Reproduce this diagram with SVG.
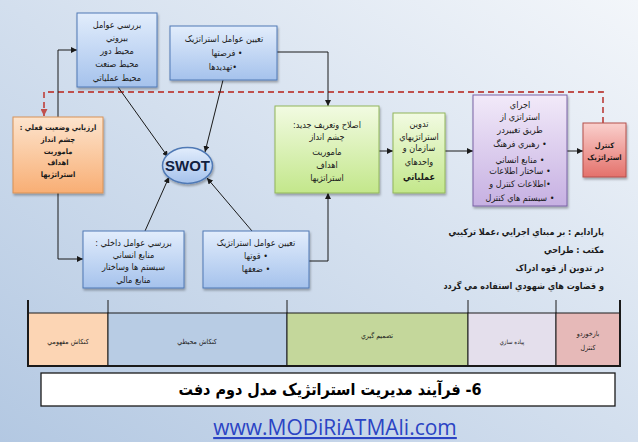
<svg xmlns="http://www.w3.org/2000/svg" width="638" height="442" viewBox="0 0 638 442">
<defs>
<linearGradient id="bg" x1="1" y1="0" x2="0" y2="1">
<stop offset="0" stop-color="#f3f6fa"/>
<stop offset="1" stop-color="#b3c8e2"/>
</linearGradient>
<linearGradient id="gBlue" x1="0" y1="0" x2="0" y2="1"><stop offset="0" stop-color="#e2edfc"/><stop offset="1" stop-color="#a5c2ec"/></linearGradient>
<linearGradient id="gOrange" x1="0" y1="0" x2="0" y2="1"><stop offset="0" stop-color="#fde4cd"/><stop offset="1" stop-color="#f8ae74"/></linearGradient>
<linearGradient id="gGreen" x1="0" y1="0" x2="0" y2="1"><stop offset="0" stop-color="#f2fbe2"/><stop offset="1" stop-color="#c3e78b"/></linearGradient>
<linearGradient id="gPurple" x1="0" y1="0" x2="0" y2="1"><stop offset="0" stop-color="#f2eaf9"/><stop offset="1" stop-color="#c6b0e2"/></linearGradient>
<linearGradient id="gRed" x1="0" y1="0" x2="0" y2="1"><stop offset="0" stop-color="#fad0cd"/><stop offset="1" stop-color="#e4716b"/></linearGradient>
<filter id="sh" x="-10%" y="-10%" width="125%" height="130%">
<feDropShadow dx="1" dy="2" stdDeviation="1.3" flood-color="#000" flood-opacity="0.3"/>
</filter>
<marker id="ah" viewBox="0 0 10 10" refX="10" refY="5" markerWidth="6" markerHeight="6" orient="auto" markerUnits="userSpaceOnUse">
<path d="M0,0 L10,5 L0,10 z" fill="#1a1a1a"/>
</marker>
<marker id="ahr" viewBox="0 0 10 10" refX="10" refY="5" markerWidth="7" markerHeight="7" orient="auto" markerUnits="userSpaceOnUse">
<path d="M0,0 L10,5 L0,10 z" fill="#c0504d"/>
</marker>
</defs>
<style>
.t{font-family:"DejaVu Sans Condensed","DejaVu Sans",sans-serif;font-stretch:condensed;font-size:9px;fill:#1a1a1a;text-anchor:middle;direction:rtl}
.b{font-weight:bold}
.o{font-size:7.5px}
.n{text-anchor:start;font-size:9px}
.box{stroke-width:1;filter:url(#sh)}
.blue{fill:url(#gBlue);stroke:#4f79b5}
.orange{fill:url(#gOrange);stroke:#d89257}
.green{fill:url(#gGreen);stroke:#92b65b}
.purple{fill:url(#gPurple);stroke:#7a62a6}
.red{fill:url(#gRed);stroke:#b4504b}
.ln{fill:none;stroke:#1a1a1a;stroke-width:1}
.dash{fill:none;stroke:#c0504d;stroke-width:1.8;stroke-dasharray:6 4}
.cell{stroke:#1a1a1a;stroke-width:1}
.ct{font-family:"DejaVu Sans Condensed","DejaVu Sans",sans-serif;font-stretch:condensed;font-size:7px;fill:#1a1a1a;text-anchor:middle;direction:rtl}
</style>
<rect x="0" y="0" width="638" height="442" fill="url(#bg)"/>

<g id="connectors">
<path class="dash" d="M603,123 V92 H44 V116" marker-end="url(#ahr)"/>
<path class="ln" d="M58,117 V50 H77" marker-end="url(#ah)"/>
<path class="ln" d="M58,193 V259 H83" marker-end="url(#ah)"/>
<path class="ln" d="M277,52 H328 V106" marker-end="url(#ah)"/>
<path class="ln" d="M309,261 H328 V193" marker-end="url(#ah)"/>
<line class="ln" x1="118" y1="87" x2="168" y2="157" marker-end="url(#ah)"/>
<line class="ln" x1="223" y1="80" x2="205" y2="152" marker-end="url(#ah)"/>
<line class="ln" x1="145" y1="231" x2="169" y2="177" marker-end="url(#ah)"/>
<line class="ln" x1="252" y1="231" x2="207" y2="178" marker-end="url(#ah)"/>
<line class="ln" x1="379" y1="151" x2="393" y2="151" marker-end="url(#ah)"/>
<line class="ln" x1="445" y1="151" x2="473" y2="151" marker-end="url(#ah)"/>
<line class="ln" x1="567" y1="151" x2="583" y2="151" marker-end="url(#ah)"/>
</g>

<g id="external">
<rect class="box blue" x="77" y="13" width="80" height="74"/>
<text class="t" x="117" y="28">بررسي عوامل</text>
<text class="t" x="117" y="41">بيروني</text>
<text class="t" x="117" y="54">محيط دور</text>
<text class="t" x="117" y="67">محيط صنعت</text>
<text class="t" x="117" y="81">محيط عملياتي</text>
</g>

<g id="opportunities">
<rect class="box blue" x="170" y="26" width="107" height="54"/>
<text class="t" x="224" y="42">تعيين عوامل استراتژيک</text>
<text class="t" x="227" y="56">• فرصتها</text>
<text class="t" x="223" y="70">•تهديدها</text>
</g>

<g id="current">
<rect class="box orange" x="13" y="117" width="90" height="76"/>
<text class="t b o" x="58" y="130">ارزيابي وضعيت فعلي :</text>
<text class="t b o" x="58" y="142">چشم انداز</text>
<text class="t b o" x="58" y="154">ماموريت</text>
<text class="t b o" x="58" y="165">اهداف</text>
<text class="t b o" x="58" y="177">استراتژيها</text>
</g>

<g id="swot">
<ellipse cx="187.5" cy="165.5" rx="25" ry="18" fill="url(#gBlue)" stroke="#4f79b5" stroke-width="1.5" filter="url(#sh)"/>
<text x="187.5" y="171" font-family="Liberation Sans, Arial, sans-serif" font-size="15" font-weight="bold" fill="#10203f" text-anchor="middle">SWOT</text>
</g>

<g id="internal">
<rect class="box blue" x="83" y="231" width="101" height="57"/>
<text class="t" x="133.5" y="246">بررسي عوامل  داخلي :</text>
<text class="t" x="133.5" y="258">منابع انساني</text>
<text class="t" x="133.5" y="270">سيستم ها وساختار</text>
<text class="t" x="133.5" y="283">منابع مالي</text>
</g>

<g id="strengths">
<rect class="box blue" x="203" y="231" width="106" height="57"/>
<text class="t" x="256" y="246">تعيين عوامل استراتژيک</text>
<text class="t" x="256" y="259">• قوتها</text>
<text class="t" x="256" y="272">• ضعفها</text>
</g>

<g id="reform">
<rect class="box green" x="275" y="106" width="104" height="87"/>
<text class="t" x="327" y="128">اصلاح وتعريف جديد:</text>
<text class="t" x="327" y="140">چشم انداز</text>
<text class="t" x="327" y="155">ماموريت</text>
<text class="t" x="327" y="168">اهداف</text>
<text class="t" x="327" y="181">استراتژيها</text>
</g>

<g id="formulate">
<rect class="box green" x="393" y="113" width="52" height="80"/>
<text class="t" x="419" y="127">تدوين</text>
<text class="t" x="419" y="140">استراتژيهاي</text>
<text class="t" x="419" y="151">سازمان و</text>
<text class="t" x="419" y="165">واحدهاي</text>
<text class="t b" x="419" y="180">عملياتي</text>
</g>

<g id="implement">
<rect class="box purple" x="473" y="95" width="94" height="111"/>
<text class="t" x="520" y="108">اجراي</text>
<text class="t" x="520" y="120">استراتژي از</text>
<text class="t" x="520" y="133">طريق تغييردر</text>
<text class="t" x="520" y="147">• رهبري فرهنگ</text>
<text class="t" x="520" y="163">• منابع انساني</text>
<text class="t" x="520" y="174">• ساختار اطلاعات</text>
<text class="t" x="520" y="187">•اطلاعات کنترل و</text>
<text class="t" x="520" y="201">• سيستم هاي کنترل</text>
</g>

<g id="control">
<rect class="box red" x="583" y="123" width="43" height="54"/>
<text class="t b o" x="604.5" y="148">کنترل</text>
<text class="t b o" x="604.5" y="160">استراتژيک</text>
</g>

<g id="notes">
<text class="t b n" x="604" y="235">پارادايم : بر مبناي اجرايي ،عملا ترکيبي</text>
<text class="t b n" x="604" y="253">مکتب : طراحي</text>
<text class="t b n" x="604" y="271">در تدوين از قوه ادراک</text>
<text class="t b n" x="604" y="289">و قضاوت هاي شهودي استفاده مي گردد</text>
</g>

<g id="table">
<rect class="cell" x="28" y="313" width="80" height="53" fill="#fcd5b4"/>
<rect class="cell" x="108" y="313" width="179" height="53" fill="#b8cce4"/>
<rect class="cell" x="287" y="313" width="181" height="53" fill="#c4d79b"/>
<rect class="cell" x="468" y="313" width="88" height="53" fill="#e4dfec"/>
<rect class="cell" x="556" y="313" width="64" height="53" fill="#e6b9b8"/>
<path d="M108,300 V313 M287,300 V313 M468,300 V313 M556,300 V313" stroke="#1a1a1a" stroke-width="1"/>
<path d="M28,300 V366 H620 V300" fill="none" stroke="#1a1a1a" stroke-width="2"/>
<text class="ct" x="68" y="344">کنکاش مفهومي</text>
<text class="ct" x="197" y="344">کنکاش محيطي</text>
<text class="ct" x="377" y="338">تصميم گيري</text>
<text class="ct" x="512" y="344" style="font-size:6px">پياده سازي</text>
<text class="ct" x="588" y="336">بازخوردو</text>
<text class="ct" x="588" y="350">کنترل</text>
</g>

<g id="title">
<rect x="41" y="373" width="574" height="33" fill="#ffffff" stroke="#1a1a1a" stroke-width="1.3"/>
<text class="t b" x="330" y="395" style="font-size:16px;fill:#000">6- فرآيند مديريت استراتژيک مدل  دوم دفت</text>
</g>

<g id="url">
<text x="335" y="435" font-family="Open Sans, sans-serif" font-size="21" fill="#2b44c4" text-anchor="middle" text-decoration="underline">www.MODiRiATMAli.com</text>
</g>
</svg>
